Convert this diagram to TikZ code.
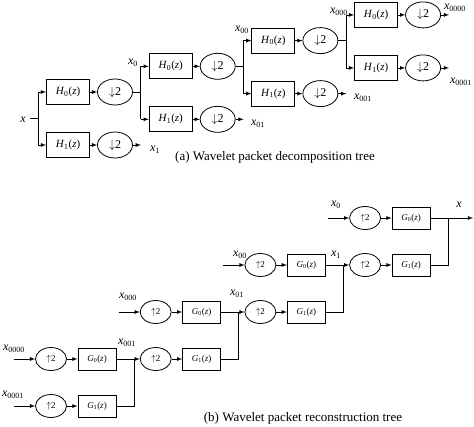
\documentclass[tikz,border=0pt]{standalone}
\usepackage{fontspec}
\setmainfont{Liberation Serif}
\usetikzlibrary{arrows,shapes.geometric,positioning}
\newcommand{\filt}[2]{\textit{#1}\textsubscript{#2}(\textit{z})}
\newcommand{\xs}[1]{\textit{x}\textsubscript{#1}}

\begin{document}
\begin{tikzpicture}[x=1pt,y=-1pt,line width=0.8pt,
filtbox/.style={draw,line width=1pt,minimum width=43pt,minimum height=25pt,inner sep=0pt,font={\fontsize{11pt}{13}\selectfont}},
downs/.style={draw,ellipse,minimum width=35pt,minimum height=26pt,inner sep=0pt,font={\fontsize{12pt}{14}\selectfont}},
synbox/.style={filtbox,minimum width=38pt,minimum height=22pt,font={\fontsize{9pt}{11}\selectfont}},
ups/.style={downs,minimum width=31pt,minimum height=23pt,font={\fontsize{9pt}{11}\selectfont}},
lab/.style={inner sep=0pt,font={\fontsize{12pt}{14}\selectfont}},
captext/.style={inner sep=0pt,font={\fontsize{13pt}{15}\selectfont}}
]
\useasboundingbox (0,0) rectangle (474,426);

% (a) decomposition
\foreach \k in {1,...,4}{
  \pgfmathsetmacro{\cx}{68+102.7*(\k-1)}
  \pgfmathsetmacro{\cy}{92-25.7*(\k-1)}
  \node[filtbox] (h0\k) at (\cx,\cy) {\filt{H}{0}};
  \node[downs] (d0\k) at (\cx+47,\cy) {$\downarrow$2};
  \node[filtbox] (h1\k) at (\cx,\cy+53) {\filt{H}{1}};
  \node[downs] (d1\k) at (\cx+47,\cy+53) {$\downarrow$2};
  \coordinate (j\k) at (\cx-30,\cy+26.5);
  \draw (j\k |- h0\k) -- (j\k |- h1\k);
  \draw[-latex] (j\k |- h0\k) -- (h0\k);
  \draw[-latex] (j\k |- h1\k) -- (h1\k);
  \draw[-latex] (h0\k) -- (d0\k);
  \draw[-latex] (h1\k) -- (d1\k);
  \draw[-latex] (d1\k.east) -- ++(8,0);
}
\coordinate (xin) at (30,118.5);
\draw (xin) -- (j1);
\draw (d01.east) -- (d01.east -| j2);
\draw (d02.east) -- (d02.east -| j3);
\draw (d03.east) -- (d03.east -| j4);
\draw[-latex] (d04.east) -- ++(8,0);

\node[lab] (lx) at (23,120) {\textit{x}};
\node[lab] (lx0) at (133,63) {\xs{0}};
\node[lab] (lx00) at (242,30) {\xs{00}};
\node[lab] (lx000) at (339,12) {\xs{000}};
\node[lab] (lx0000) at (455,7.5) {\xs{0000}};
\node[lab] (lx1) at (155,150) {\xs{1}};
\node[lab] (lx01) at (258,124) {\xs{01}};
\node[lab] (lx001) at (363,98) {\xs{001}};
\node[lab] (lx0001) at (461,82) {\xs{0001}};
\node[captext] (capa) at (275,157) {(a) Wavelet packet decomposition tree};

% (b) reconstruction
\foreach \c in {0,...,3}{
  \pgfmathsetmacro{\ex}{51+104.7*\c}
  \pgfmathsetmacro{\ty}{359-47*\c}
  \node[ups] (u0\c) at (\ex,\ty) {$\uparrow$2};
  \node[synbox] (g0\c) at (\ex+46,\ty) {\filt{G}{0}};
  \node[ups] (u1\c) at (\ex,\ty+47) {$\uparrow$2};
  \node[synbox] (g1\c) at (\ex+46,\ty+47) {\filt{G}{1}};
  \coordinate (s\c) at (\ex+83,\ty);
  \coordinate (in\c) at (\ex-37,\ty);
  \draw[-latex] (in\c) -- (u0\c);
  \draw[-latex] (u0\c) -- (g0\c);
  \draw[-latex] (u1\c) -- (g1\c);
  \draw (g1\c) -| (s\c);
}
\coordinate (in4) at (14,406);
\coordinate (xout) at (473,218);
\draw[-latex] (in4) -- (u10);
\draw[-latex] (g00) -- (u11);
\draw[-latex] (g01) -- (u12);
\draw[-latex] (g02) -- (u13);
\draw[-latex] (g03) -- (xout);

\node[lab] (rx0000) at (14,349) {\xs{0000}};
\node[lab] (rx0001) at (13,395) {\xs{0001}};
\node[lab] (rx000) at (128,297) {\xs{000}};
\node[lab] (rx00) at (240,255) {\xs{00}};
\node[lab] (rx0) at (336,205) {\xs{0}};
\node[lab] (rx001) at (127,343) {\xs{001}};
\node[lab] (rx01) at (237,294) {\xs{01}};
\node[lab] (rx1) at (336,255) {\xs{1}};
\node[lab] (rx) at (459,205) {\textit{x}};
\node[captext] (capb) at (303,418) {(b) Wavelet packet reconstruction tree};
\end{tikzpicture}
\end{document}
